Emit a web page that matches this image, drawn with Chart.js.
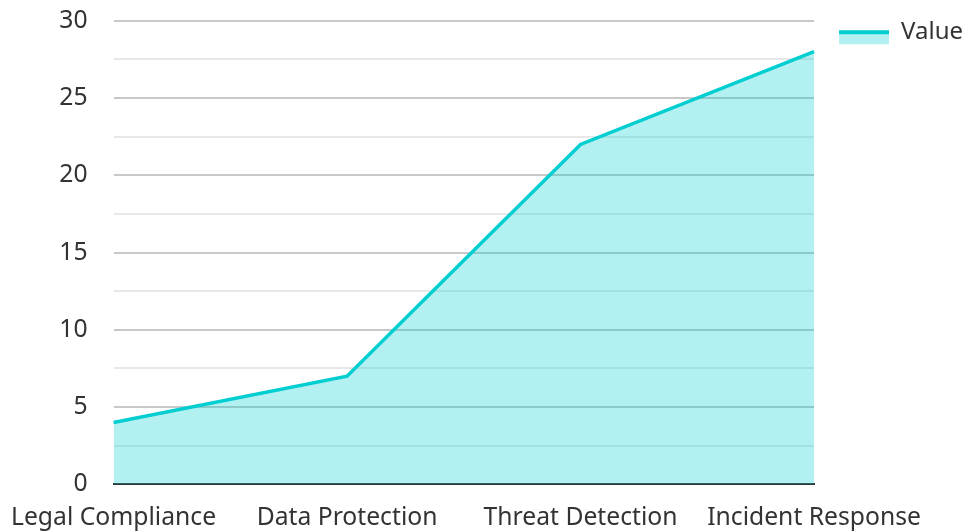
<!DOCTYPE html>
<html lang="en">
<head>
    <meta charset="UTF-8">
    <title>Value chart</title>
    <script src="https://cdn.jsdelivr.net/npm/chart.js"></script>
    <style>
        body { margin: 0; background: #fff; }
        #wrap { width: 964px; height: 531px; }
    </style>
</head>
<body>
    <div id="wrap"><canvas id="chart"></canvas></div>
<script>
    const categories = ["Legal Compliance", "Data Protection", "Threat Detection", "Incident Response"];
    const values = [4, 7, 22, 28];
    const seriesName = "Value";

    const lineColor = "#00ced1";
    const fillColor = "rgba(0, 206, 209, 0.3)";

    // legend icon: fill box with a thick line on top (left part kept empty as a gap)
    const icon = document.createElement("canvas");
    icon.width = 73;
    icon.height = 28;
    const ic = icon.getContext("2d");
    ic.fillStyle = fillColor;
    ic.fillRect(23, 14, 50, 12);
    ic.fillStyle = lineColor;
    ic.fillRect(23, 12, 50, 4);

    Chart.defaults.font.family = "'Noto Sans', sans-serif";
    Chart.defaults.color = "#333";

    new Chart(document.getElementById("chart"), {
        type: "line",
        data: {
            labels: categories,
            datasets: [{
                label: seriesName,
                data: values,
                borderColor: lineColor,
                backgroundColor: fillColor,
                borderWidth: 3.5,
                fill: "origin",
                tension: 0,
                pointRadius: 0,
                pointHoverRadius: 0,
                pointStyle: icon
            }]
        },
        options: {
            responsive: true,
            maintainAspectRatio: false,
            animation: false,
            layout: { padding: { top: 5, right: -9, bottom: -13, left: 10 } },
            plugins: {
                tooltip: { enabled: false },
                legend: {
                    position: "right",
                    align: "start",
                    title: { display: true, text: " ", font: { size: 1 }, padding: { top: 0, bottom: 12 } },
                    labels: {
                        usePointStyle: true,
                        pointStyleWidth: 73,
                        font: { size: 24 },
                        color: "#333",
                        padding: 2
                    }
                }
            },
            scales: {
                x: {
                    offset: false,
                    grid: { display: false, drawTicks: true, tickLength: 8 },
                    border: { display: true, color: "#333", width: 2 },
                    ticks: { font: { size: 24.7 }, padding: 11, maxRotation: 0, autoSkip: false }
                },
                y: {
                    min: 0,
                    max: 30,
                    border: { display: false },
                    grid: {
                        drawTicks: true,
                        tickLength: 20,
                        tickColor: "rgba(0,0,0,0)",
                        lineWidth: 2,
                        color: ctx => (ctx.tick && ctx.tick.value % 5 === 0) ? "#c8c8c8" : "#e8e8e8"
                    },
                    ticks: {
                        stepSize: 2.5,
                        padding: 6,
                        font: { size: 24.7 },
                        callback: v => (v % 5 === 0 ? v : "")
                    }
                }
            }
        }
    });
</script>
</body>
</html>
